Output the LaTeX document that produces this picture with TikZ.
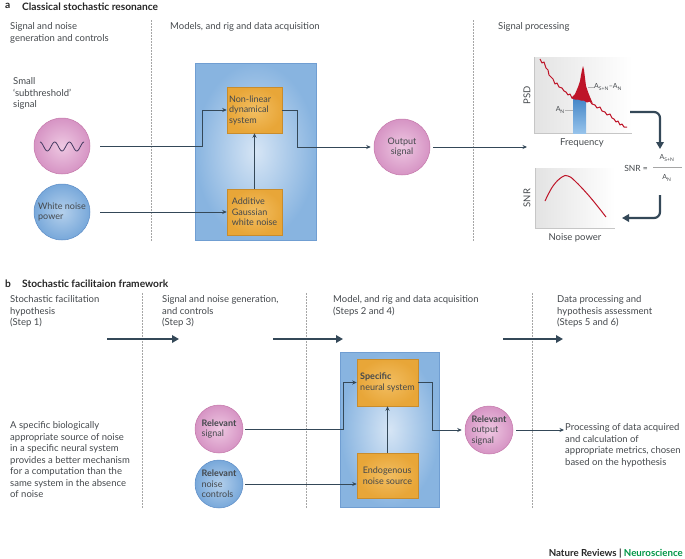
\documentclass[tikz,border=0pt]{standalone}
\usepackage{fontspec}
\setmainfont{Lato}
\usetikzlibrary{arrows.meta,positioning,calc}
\definecolor{slate}{RGB}{52,72,88}
\definecolor{inkgrey}{RGB}{68,72,76}
\definecolor{pinkin}{RGB}{238,200,226}
\definecolor{pinkout}{RGB}{214,148,196}
\definecolor{pinkedge}{RGB}{196,120,170}
\definecolor{bluein}{RGB}{180,208,236}
\definecolor{blueout}{RGB}{120,168,218}
\definecolor{blueedge}{RGB}{92,140,198}
\definecolor{orangein}{RGB}{242,190,98}
\definecolor{orangeout}{RGB}{232,166,56}
\definecolor{orangeedge}{RGB}{200,140,45}
\definecolor{panelin}{RGB}{214,229,245}
\definecolor{panelout}{RGB}{136,180,224}
\definecolor{paneledge}{RGB}{112,158,210}
\definecolor{psdred}{RGB}{190,20,40}
\definecolor{bartop}{RGB}{70,135,200}
\definecolor{barbot}{RGB}{150,195,235}
\definecolor{natgreen}{RGB}{0,150,70}
\tikzset{
  txt/.style={font=\fontsize{9.5}{11.5}\selectfont, text=inkgrey, inner sep=0pt, align=left, anchor=north west},
  head/.style={font=\bfseries\fontsize{10.2}{12}\selectfont, text=black!85, inner sep=0pt, anchor=north west},
  small/.style={font=\fontsize{7}{8}\selectfont, text=inkgrey, inner sep=0pt},
  sep/.style={gray!70, line width=0.4pt, dash pattern=on 1.5pt off 1.5pt},
  conn/.style={slate, line width=0.9pt, -{Stealth[length=4.5pt,width=4pt]}},
  bigarrow/.style={slate, line width=2.2pt, -{Triangle[length=7pt,width=7.5pt]}},
  ball/.style={circle, line width=0.5pt, inner sep=0pt, font=\fontsize{9}{10.5}\selectfont, text=inkgrey},
  pinkball/.style={ball, draw=pinkedge, inner color=pinkin, outer color=pinkout},
  blueball/.style={ball, draw=blueedge, inner color=bluein, outer color=blueout},
  orangebox/.style={rectangle, draw=orangeedge, line width=0.5pt, inner color=orangein, outer color=orangeout,
    inner sep=2pt, align=left, font=\fontsize{9}{10.5}\selectfont, text=inkgrey},
  bluepanel/.style={rectangle, draw=paneledge, line width=0.5pt, inner color=panelin, outer color=panelout, inner sep=0pt},
  plotbox/.style={left color=gray!22, right color=white},
  noiseline/.style={psdred, line width=1pt, line join=round},
}

\begin{document}
\begin{tikzpicture}[x=1pt,y=-1pt]
  \useasboundingbox (0,0) rectangle (685,558);

  % panel a
  \node[head] (alab) at (5,3) {a};
  \node[head] (atitle) at (22,3) {Classical stochastic resonance};
  \node[txt] (acol1) at (10,22.5) {Signal and noise\\generation and controls};
  \node[txt] (acol2) at (170,22.5) {Models, and rig and data acquisition};
  \node[txt] (acol3) at (498,22.5) {Signal processing};
  \foreach \xs in {151,473} \draw[sep] (\xs,20) -- (\xs,241);

  \node[txt] (small) at (13,77.5) {Small\\`subthreshold'\\signal};
  \node[pinkball, minimum size=56pt] (sig) at (62,146) {};
  \draw[slate!80!violet, line width=0.8pt] plot[domain=0:3, samples=61] ({40+\x*14.7}, {146.5-4.5*cos(\x*360)});
  \node[blueball, minimum size=56pt, align=left] (noise) at (62,212) {White noise\\power};

  \node[bluepanel, minimum width=121pt, minimum height=177pt] (rig) at (255.5,151.5) {};
  \node[orangebox, minimum width=55pt, minimum height=46pt] (nls) at (254.5,110) {Non-linear\\dynamical\\system\phantom{ noise}};
  \node[orangebox, minimum width=55pt, minimum height=46pt] (agn) at (254.5,212) {Additive\\Gaussian\\white noise};
  \node[pinkball, minimum size=56pt, align=center] (out) at (402,147) {Output\\signal};

  \coordinate (ja) at (202,146);
  \coordinate (jb) at (297,147);
  \coordinate (psdin) at (527,147);
  \draw[conn, shorten <=10pt] (sig.east) -- (ja) |- (nls.west);
  \draw[conn, shorten <=10pt] (noise.east) -- (agn.west);
  \draw[conn] (agn.north) -- (nls.south);
  \draw[conn, shorten >=3pt] (nls.east) -| (jb) -- (out.west);
  \draw[conn, shorten <=3pt] (out.east) -- (psdin);

  % PSD plot
  \fill[plotbox] (534,57) rectangle (632,133);
  \draw[gray!45, line width=0.6pt] (534,57) -- (534,133) -- (632,133);
  \shade[top color=bartop, bottom color=barbot] (573,99) rectangle (586,133);
  \fill[psdred] (571,98) -- (575,94) -- (578,87) -- (580,81) -- (581,75) -- (582,70) -- (583,66)
    -- (584,70) -- (585,78) -- (586,86) -- (588,92) -- (590,97) -- (593,104) -- (590,101)
    -- (587,102) -- (584,100) -- (581,100) -- (578,99) -- (575,99) -- cycle;
  \draw[noiseline] (540,59) -- (542,63) -- (544,62) -- (546,68) -- (548,70) -- (549,75) -- (551,77)
    -- (553,79) -- (555,84) -- (557,83) -- (559,87) -- (562,88) -- (564,91) -- (566,92) -- (568,95)
    -- (570,94) -- (572,98) -- (575,99) -- (578,99) -- (581,100) -- (584,100) -- (587,102) -- (590,101)
    -- (592,104) -- (595,105) -- (597,108) -- (600,107) -- (602,111) -- (605,112) -- (607,115)
    -- (610,114) -- (612,118) -- (614,119) -- (616,122) -- (618,121) -- (620,125) -- (622,124)
    -- (624,127) -- (627,127);
  \node[small, anchor=west] (asn) at (594,87) {A\textsubscript{S+N}–A\textsubscript{N}};
  \draw[gray!60, line width=0.4pt] (588,87) -- (asn.west);
  \node[small, anchor=east] (an) at (565,110) {A\textsubscript{N}};
  \draw[gray!60, line width=0.4pt] (an.east) -- (573,110);
  \node[txt, rotate=90, anchor=center] (psd) at (527,95) {PSD};
  \node[txt, anchor=center] (freq) at (582,143) {Frequency};

  % SNR
  \coordinate (r1) at (630,112);
  \coordinate (r2) at (660,149);
  \coordinate (r3) at (660,195);
  \coordinate (r4) at (622,218);
  \draw[bigarrow, rounded corners=6pt] (r1) -| (r2);
  \draw[bigarrow, rounded corners=6pt] (r3) |- (r4);
  \node[txt, anchor=east, font=\fontsize{8.5}{10}\selectfont] (snreq) at (648,168) {SNR =};
  \node[small] (num) at (667,158) {A\textsubscript{S+N}};
  \node[small] (den) at (667,178) {A\textsubscript{N}};
  \draw[gray!70, line width=0.4pt] (653,167.5) -- (682,167.5);

  \fill[plotbox] (535,168) rectangle (615,228);
  \draw[gray!45, line width=0.6pt] (535,168) -- (535,228) -- (615,228);
  \draw[noiseline] plot[smooth, tension=0.7] coordinates {(545,201) (553,186) (562,177) (568,176) (575,181) (590,197) (606,217)};
  \node[txt, rotate=90, anchor=center] (snr) at (527,198) {SNR};
  \node[txt, anchor=center] (npow) at (575,238) {Noise power};

  % panel b
  \node[head] (blab) at (5,280) {b};
  \node[head] (btitle) at (22,280) {Stochastic facilitaion framework};
  \node[txt] (bcol1) at (10,295.5) {Stochastic facilitation\\hypothesis\\(Step 1)};
  \node[txt] (bcol2) at (162,295.5) {Signal and noise generation,\\and controls\\(Step 3)};
  \node[txt] (bcol3) at (333,295.5) {Model, and rig and data acquisition\\(Steps 2 and 4)};
  \node[txt] (bcol4) at (557,295.5) {Data processing and\\hypothesis assessment\\(Steps 5 and 6)};
  \foreach \xs in {142,306,532} \draw[sep] (\xs,293) -- (\xs,508);
  \foreach \xa/\xb [count=\i] in {107/179, 273/343, 503/563} {
    \coordinate (s\i) at (\xa,339);
    \coordinate (e\i) at (\xb,339);
    \draw[bigarrow] (s\i) -- (e\i);
  }

  \node[txt] (hypo) at (10,421.5) {A specific biologically\\appropriate source of noise\\in a specific neural system\\provides a better mechanism\\for a computation than the\\same system in the absence\\of noise};

  \node[pinkball, minimum size=48pt, align=left] (rsig) at (219,429) {\textbf{Relevant}\\signal};
  \node[blueball, minimum size=48pt, align=left] (rnoise) at (219,484) {\textbf{Relevant}\\noise\\controls};
  \node[bluepanel, minimum width=99pt, minimum height=155pt] (brig) at (389.5,429.5) {};
  \node[orangebox, minimum width=61pt, minimum height=47pt] (sns) at (387.5,382.5) {\textbf{Specific}\\neural system};
  \node[orangebox, minimum width=61pt, minimum height=45pt] (ens) at (387.5,475.5) {Endogenous\\noise source};
  \node[pinkball, minimum size=48pt, align=left] (rout) at (489,430) {\textbf{Relevant}\\output\\signal};
  \node[txt] (proc) at (565,423.5) {Processing of data acquired\\and calculation of\\appropriate metrics, chosen\\based on the hypothesis};

  \coordinate (jc) at (343,429);
  \coordinate (jd) at (432,430);
  \draw[conn, shorten <=2pt] (rsig.east) -- (jc) |- (sns.west);
  \draw[conn, shorten <=2pt] (rnoise.east) -- (rnoise.east -| ens.west);
  \draw[conn] (ens.north) -- (sns.south);
  \draw[conn, shorten >=3pt] (sns.east) -| (jd) -- (rout.west);
  \draw[conn, shorten <=3pt, shorten >=1pt] (rout.east) -- (rout.east -| proc.west);

  \node[anchor=base east, inner sep=0pt, font=\bfseries\fontsize{9.7}{11}\selectfont, text=black!85] (credit) at (683,556)
    {Nature Reviews | \textcolor{natgreen}{Neuroscience}};
\end{tikzpicture}
\end{document}
